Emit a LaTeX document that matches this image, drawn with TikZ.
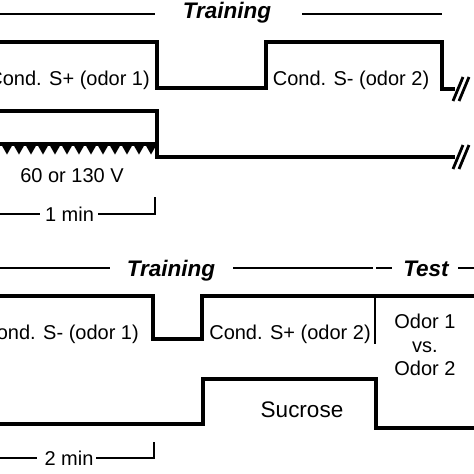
\documentclass[tikz,border=0pt]{standalone}
\usepackage{fontspec}
\setmainfont{Liberation Sans}
\begin{document}
\begin{tikzpicture}[x=1pt,y=-1pt,
  trace/.style={line width=3.2pt},
  rule/.style={line width=2.8pt},
  scaleline/.style={line width=2.4pt},
  lbl/.style={font=\fontsize{20}{24}\selectfont, anchor=base, inner sep=0pt},
  head/.style={lbl, font=\fontsize{22.5}{24}\selectfont\bfseries\itshape}]
	\useasboundingbox (0,0) rectangle (474,474);
	\clip (0,0) rectangle (474,474);

	% upper protocol
	\draw[rule] (0,14) -- (155,14);
	\draw[rule] (302,14) -- (442,14);
	\node[head] (trainA) at (227,18) {Training};

	\draw[trace] (-5,42) -- (157,42) -- (157,88) -- (266,88) -- (266,42) -- (442,42) -- (442,89) -- (455,89);
	\node[lbl, anchor=base east] (odorA) at (150,85) {Cond. S+ (odor 1)};
	\node[lbl] (odorB) at (351,85) {Cond. S- (odor 2)};

	\draw[trace] (-5,111) -- (157,111) -- (157,157) -- (455,157);
	\draw[trace] (-5,144) -- (157,144);
	\foreach \i in {0,...,12}{
	   \fill (157-12*\i,144) -- ++(-6,10.5) -- ++(-6,-10.5) -- cycle;
	}
	\node[lbl] (shock) at (72,182) {60 or 130 V};

	\foreach \c in {89,157}{
	   \foreach \dx in {-3,3}{
	      \draw[rule] (461+\dx-5,\c+12) -- (461+\dx+5,\c-12);
	   }
	}

	\draw[scaleline] (0,214) -- (40,214);
	\draw[scaleline] (98,214) -- (155,214) -- (155,197);
	\node[lbl] (minA) at (69.5,221) {1 min};

	% lower protocol
	\draw[rule] (0,268) -- (110,268);
	\draw[rule] (233,268) -- (373,268);
	\draw[rule] (376,268) -- (392,268);
	\draw[rule] (458,268) -- (480,268);
	\node[head] (trainB) at (171,276) {Training};
	\node[head] (test) at (426,276) {Test};

	\draw[trace] (-5,296) -- (153,296) -- (153,339) -- (202,339) -- (202,296) -- (480,296);
	\draw[rule] (375,296) -- (375,344);
	\node[lbl, anchor=base east] (odorC) at (139,339) {Cond. S- (odor 1)};
	\node[lbl] (odorD) at (290,339) {Cond. S+ (odor 2)};
	\node[lbl] (testA) at (425,328) {Odor 1};
	\node[lbl] (testB) at (425,352) {vs.};
	\node[lbl] (testC) at (425,375) {Odor 2};

	\draw[trace] (-5,424) -- (203,424) -- (203,379) -- (376,379) -- (376,428) -- (480,428);
	\node[lbl, font=\fontsize{22.5}{24}\selectfont] (sucrose) at (302,417) {Sucrose};

	\draw[scaleline] (0,458) -- (37,458);
	\draw[scaleline] (96,458) -- (154,458) -- (154,442);
	\node[lbl] (minB) at (69,465) {2 min};
\end{tikzpicture}
\end{document}
